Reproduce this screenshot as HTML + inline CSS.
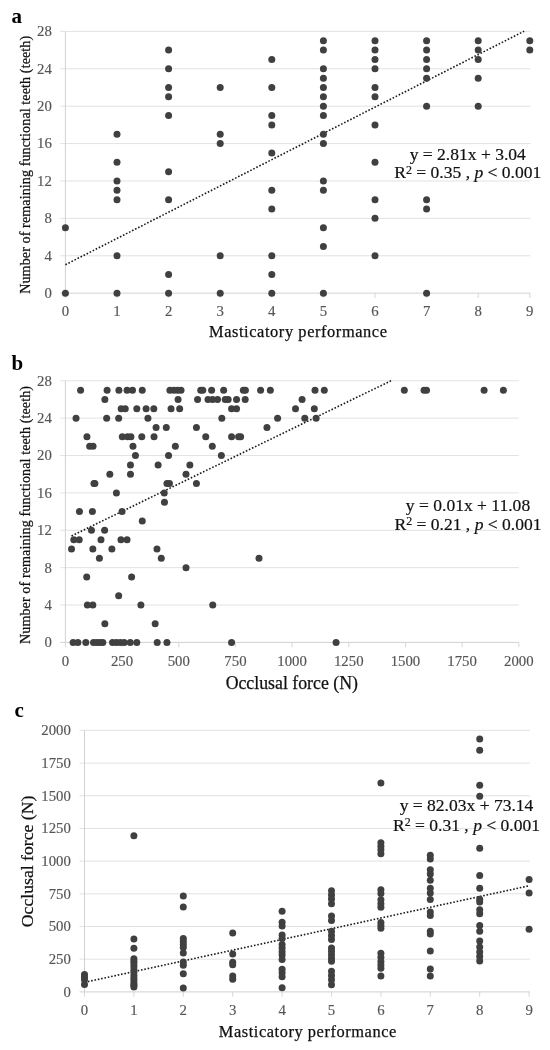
<!DOCTYPE html>
<html><head><meta charset="utf-8"><title>Figure</title>
<style>
html,body{margin:0;padding:0;background:#fff;}
body{width:550px;height:1050px;overflow:hidden;}
svg{display:block;font-family:"Liberation Serif",serif;}
</style></head><body>
<svg width="550" height="1050" viewBox="0 0 550 1050">
<rect width="550" height="1050" fill="#ffffff"/>
<line x1="60.4" y1="255.76" x2="530.4" y2="255.76" stroke="#dfdfdf" stroke-width="0.9"/>
<line x1="60.4" y1="218.37" x2="530.4" y2="218.37" stroke="#dfdfdf" stroke-width="0.9"/>
<line x1="60.4" y1="180.97" x2="530.4" y2="180.97" stroke="#dfdfdf" stroke-width="0.9"/>
<line x1="60.4" y1="143.58" x2="530.4" y2="143.58" stroke="#dfdfdf" stroke-width="0.9"/>
<line x1="60.4" y1="106.19" x2="530.4" y2="106.19" stroke="#dfdfdf" stroke-width="0.9"/>
<line x1="60.4" y1="68.8" x2="530.4" y2="68.8" stroke="#dfdfdf" stroke-width="0.9"/>
<line x1="60.4" y1="31.41" x2="530.4" y2="31.41" stroke="#dfdfdf" stroke-width="0.9"/>
<line x1="65.4" y1="31.41" x2="65.4" y2="293.15" stroke="#d2d2d2" stroke-width="1"/>
<line x1="60.4" y1="293.15" x2="530.4" y2="293.15" stroke="#d2d2d2" stroke-width="1"/>
<line x1="65.4" y1="293.15" x2="65.4" y2="297.95" stroke="#d2d2d2" stroke-width="0.9"/>
<line x1="117" y1="293.15" x2="117" y2="297.95" stroke="#d2d2d2" stroke-width="0.9"/>
<line x1="168.6" y1="293.15" x2="168.6" y2="297.95" stroke="#d2d2d2" stroke-width="0.9"/>
<line x1="220.2" y1="293.15" x2="220.2" y2="297.95" stroke="#d2d2d2" stroke-width="0.9"/>
<line x1="271.8" y1="293.15" x2="271.8" y2="297.95" stroke="#d2d2d2" stroke-width="0.9"/>
<line x1="323.4" y1="293.15" x2="323.4" y2="297.95" stroke="#d2d2d2" stroke-width="0.9"/>
<line x1="375" y1="293.15" x2="375" y2="297.95" stroke="#d2d2d2" stroke-width="0.9"/>
<line x1="426.6" y1="293.15" x2="426.6" y2="297.95" stroke="#d2d2d2" stroke-width="0.9"/>
<line x1="478.2" y1="293.15" x2="478.2" y2="297.95" stroke="#d2d2d2" stroke-width="0.9"/>
<line x1="529.8" y1="293.15" x2="529.8" y2="297.95" stroke="#d2d2d2" stroke-width="0.9"/>
<text x="51.8" y="298.05" text-anchor="end" font-size="14.8" fill="#555555" stroke="#555555" stroke-width="0.15">0</text>
<text x="51.8" y="260.66" text-anchor="end" font-size="14.8" fill="#555555" stroke="#555555" stroke-width="0.15">4</text>
<text x="51.8" y="223.27" text-anchor="end" font-size="14.8" fill="#555555" stroke="#555555" stroke-width="0.15">8</text>
<text x="51.8" y="185.87" text-anchor="end" font-size="14.8" fill="#555555" stroke="#555555" stroke-width="0.15">12</text>
<text x="51.8" y="148.48" text-anchor="end" font-size="14.8" fill="#555555" stroke="#555555" stroke-width="0.15">16</text>
<text x="51.8" y="111.09" text-anchor="end" font-size="14.8" fill="#555555" stroke="#555555" stroke-width="0.15">20</text>
<text x="51.8" y="73.7" text-anchor="end" font-size="14.8" fill="#555555" stroke="#555555" stroke-width="0.15">24</text>
<text x="51.8" y="36.31" text-anchor="end" font-size="14.8" fill="#555555" stroke="#555555" stroke-width="0.15">28</text>
<text x="65.4" y="316.2" text-anchor="middle" font-size="14.8" fill="#555555" stroke="#555555" stroke-width="0.15">0</text>
<text x="117" y="316.2" text-anchor="middle" font-size="14.8" fill="#555555" stroke="#555555" stroke-width="0.15">1</text>
<text x="168.6" y="316.2" text-anchor="middle" font-size="14.8" fill="#555555" stroke="#555555" stroke-width="0.15">2</text>
<text x="220.2" y="316.2" text-anchor="middle" font-size="14.8" fill="#555555" stroke="#555555" stroke-width="0.15">3</text>
<text x="271.8" y="316.2" text-anchor="middle" font-size="14.8" fill="#555555" stroke="#555555" stroke-width="0.15">4</text>
<text x="323.4" y="316.2" text-anchor="middle" font-size="14.8" fill="#555555" stroke="#555555" stroke-width="0.15">5</text>
<text x="375" y="316.2" text-anchor="middle" font-size="14.8" fill="#555555" stroke="#555555" stroke-width="0.15">6</text>
<text x="426.6" y="316.2" text-anchor="middle" font-size="14.8" fill="#555555" stroke="#555555" stroke-width="0.15">7</text>
<text x="478.2" y="316.2" text-anchor="middle" font-size="14.8" fill="#555555" stroke="#555555" stroke-width="0.15">8</text>
<text x="529.8" y="316.2" text-anchor="middle" font-size="14.8" fill="#555555" stroke="#555555" stroke-width="0.15">9</text>
<line x1="65.4" y1="264.73" x2="524.12" y2="31.21" stroke="#1a1a1a" stroke-width="1.6" stroke-dasharray="1.6 1.8"/>
<g fill="#404040"><circle cx="65.4" cy="293.15" r="3.5"/><circle cx="65.4" cy="227.71" r="3.5"/><circle cx="117" cy="293.15" r="3.5"/><circle cx="117" cy="255.76" r="3.5"/><circle cx="117" cy="199.67" r="3.5"/><circle cx="117" cy="190.32" r="3.5"/><circle cx="117" cy="180.97" r="3.5"/><circle cx="117" cy="162.28" r="3.5"/><circle cx="117" cy="134.23" r="3.5"/><circle cx="168.6" cy="293.15" r="3.5"/><circle cx="168.6" cy="274.45" r="3.5"/><circle cx="168.6" cy="199.67" r="3.5"/><circle cx="168.6" cy="171.63" r="3.5"/><circle cx="168.6" cy="115.54" r="3.5"/><circle cx="168.6" cy="96.84" r="3.5"/><circle cx="168.6" cy="87.49" r="3.5"/><circle cx="168.6" cy="68.8" r="3.5"/><circle cx="168.6" cy="50.1" r="3.5"/><circle cx="220.2" cy="293.15" r="3.5"/><circle cx="220.2" cy="255.76" r="3.5"/><circle cx="220.2" cy="143.58" r="3.5"/><circle cx="220.2" cy="134.23" r="3.5"/><circle cx="220.2" cy="87.49" r="3.5"/><circle cx="271.8" cy="293.15" r="3.5"/><circle cx="271.8" cy="274.45" r="3.5"/><circle cx="271.8" cy="255.76" r="3.5"/><circle cx="271.8" cy="209.02" r="3.5"/><circle cx="271.8" cy="190.32" r="3.5"/><circle cx="271.8" cy="152.93" r="3.5"/><circle cx="271.8" cy="124.89" r="3.5"/><circle cx="271.8" cy="115.54" r="3.5"/><circle cx="271.8" cy="87.49" r="3.5"/><circle cx="271.8" cy="59.45" r="3.5"/><circle cx="323.4" cy="293.15" r="3.5"/><circle cx="323.4" cy="246.41" r="3.5"/><circle cx="323.4" cy="227.71" r="3.5"/><circle cx="323.4" cy="190.32" r="3.5"/><circle cx="323.4" cy="180.97" r="3.5"/><circle cx="323.4" cy="143.58" r="3.5"/><circle cx="323.4" cy="134.23" r="3.5"/><circle cx="323.4" cy="115.54" r="3.5"/><circle cx="323.4" cy="106.19" r="3.5"/><circle cx="323.4" cy="96.84" r="3.5"/><circle cx="323.4" cy="87.49" r="3.5"/><circle cx="323.4" cy="78.15" r="3.5"/><circle cx="323.4" cy="68.8" r="3.5"/><circle cx="323.4" cy="50.1" r="3.5"/><circle cx="323.4" cy="40.75" r="3.5"/><circle cx="375" cy="255.76" r="3.5"/><circle cx="375" cy="218.37" r="3.5"/><circle cx="375" cy="199.67" r="3.5"/><circle cx="375" cy="162.28" r="3.5"/><circle cx="375" cy="124.89" r="3.5"/><circle cx="375" cy="96.84" r="3.5"/><circle cx="375" cy="87.49" r="3.5"/><circle cx="375" cy="68.8" r="3.5"/><circle cx="375" cy="59.45" r="3.5"/><circle cx="375" cy="50.1" r="3.5"/><circle cx="375" cy="40.75" r="3.5"/><circle cx="426.6" cy="293.15" r="3.5"/><circle cx="426.6" cy="209.02" r="3.5"/><circle cx="426.6" cy="199.67" r="3.5"/><circle cx="426.6" cy="106.19" r="3.5"/><circle cx="426.6" cy="78.15" r="3.5"/><circle cx="426.6" cy="68.8" r="3.5"/><circle cx="426.6" cy="59.45" r="3.5"/><circle cx="426.6" cy="50.1" r="3.5"/><circle cx="426.6" cy="40.75" r="3.5"/><circle cx="478.2" cy="106.19" r="3.5"/><circle cx="478.2" cy="78.15" r="3.5"/><circle cx="478.2" cy="59.45" r="3.5"/><circle cx="478.2" cy="50.1" r="3.5"/><circle cx="478.2" cy="40.75" r="3.5"/><circle cx="529.8" cy="50.1" r="3.5"/><circle cx="529.8" cy="40.75" r="3.5"/></g>
<text x="467.8" y="159.9" text-anchor="middle" font-size="17.55" fill="#111" stroke="#111" stroke-width="0.2">y = 2.81x + 3.04</text>
<text x="467.8" y="178.4" text-anchor="middle" font-size="17.55" fill="#111" stroke="#111" stroke-width="0.2">R<tspan font-size="11.9" dy="-4.9">2</tspan><tspan dy="4.9"> = 0.35 , </tspan><tspan font-style="italic">p</tspan> &lt; 0.001</text>
<text x="11.5" y="22.6" font-size="21" font-weight="bold" fill="#000">a</text>
<text transform="translate(30.2,164.8) rotate(-90)" text-anchor="middle" font-size="14.1" textLength="258" lengthAdjust="spacing" fill="#111" stroke="#111" stroke-width="0.25">Number of remaining functional teeth (teeth)</text>
<text x="298" y="337.2" text-anchor="middle" font-size="16.4" textLength="178" lengthAdjust="spacing" fill="#111" stroke="#111" stroke-width="0.25">Masticatory performance</text>
<line x1="60.4" y1="605.03" x2="518.8" y2="605.03" stroke="#dfdfdf" stroke-width="0.9"/>
<line x1="60.4" y1="567.66" x2="518.8" y2="567.66" stroke="#dfdfdf" stroke-width="0.9"/>
<line x1="60.4" y1="530.28" x2="518.8" y2="530.28" stroke="#dfdfdf" stroke-width="0.9"/>
<line x1="60.4" y1="492.91" x2="518.8" y2="492.91" stroke="#dfdfdf" stroke-width="0.9"/>
<line x1="60.4" y1="455.54" x2="518.8" y2="455.54" stroke="#dfdfdf" stroke-width="0.9"/>
<line x1="60.4" y1="418.17" x2="518.8" y2="418.17" stroke="#dfdfdf" stroke-width="0.9"/>
<line x1="60.4" y1="380.8" x2="518.8" y2="380.8" stroke="#dfdfdf" stroke-width="0.9"/>
<line x1="65.4" y1="380.8" x2="65.4" y2="642.4" stroke="#d2d2d2" stroke-width="1"/>
<line x1="60.4" y1="642.4" x2="518.8" y2="642.4" stroke="#d2d2d2" stroke-width="1"/>
<line x1="65.4" y1="642.4" x2="65.4" y2="647.2" stroke="#d2d2d2" stroke-width="0.9"/>
<line x1="122.08" y1="642.4" x2="122.08" y2="647.2" stroke="#d2d2d2" stroke-width="0.9"/>
<line x1="178.75" y1="642.4" x2="178.75" y2="647.2" stroke="#d2d2d2" stroke-width="0.9"/>
<line x1="235.43" y1="642.4" x2="235.43" y2="647.2" stroke="#d2d2d2" stroke-width="0.9"/>
<line x1="292.1" y1="642.4" x2="292.1" y2="647.2" stroke="#d2d2d2" stroke-width="0.9"/>
<line x1="348.77" y1="642.4" x2="348.77" y2="647.2" stroke="#d2d2d2" stroke-width="0.9"/>
<line x1="405.45" y1="642.4" x2="405.45" y2="647.2" stroke="#d2d2d2" stroke-width="0.9"/>
<line x1="462.12" y1="642.4" x2="462.12" y2="647.2" stroke="#d2d2d2" stroke-width="0.9"/>
<line x1="518.8" y1="642.4" x2="518.8" y2="647.2" stroke="#d2d2d2" stroke-width="0.9"/>
<text x="51.8" y="647.3" text-anchor="end" font-size="14.8" fill="#555555" stroke="#555555" stroke-width="0.15">0</text>
<text x="51.8" y="609.93" text-anchor="end" font-size="14.8" fill="#555555" stroke="#555555" stroke-width="0.15">4</text>
<text x="51.8" y="572.56" text-anchor="end" font-size="14.8" fill="#555555" stroke="#555555" stroke-width="0.15">8</text>
<text x="51.8" y="535.18" text-anchor="end" font-size="14.8" fill="#555555" stroke="#555555" stroke-width="0.15">12</text>
<text x="51.8" y="497.81" text-anchor="end" font-size="14.8" fill="#555555" stroke="#555555" stroke-width="0.15">16</text>
<text x="51.8" y="460.44" text-anchor="end" font-size="14.8" fill="#555555" stroke="#555555" stroke-width="0.15">20</text>
<text x="51.8" y="423.07" text-anchor="end" font-size="14.8" fill="#555555" stroke="#555555" stroke-width="0.15">24</text>
<text x="51.8" y="385.7" text-anchor="end" font-size="14.8" fill="#555555" stroke="#555555" stroke-width="0.15">28</text>
<text x="65.4" y="665.6" text-anchor="middle" font-size="14.8" fill="#555555" stroke="#555555" stroke-width="0.15">0</text>
<text x="122.08" y="665.6" text-anchor="middle" font-size="14.8" fill="#555555" stroke="#555555" stroke-width="0.15">250</text>
<text x="178.75" y="665.6" text-anchor="middle" font-size="14.8" fill="#555555" stroke="#555555" stroke-width="0.15">500</text>
<text x="235.43" y="665.6" text-anchor="middle" font-size="14.8" fill="#555555" stroke="#555555" stroke-width="0.15">750</text>
<text x="292.1" y="665.6" text-anchor="middle" font-size="14.8" fill="#555555" stroke="#555555" stroke-width="0.15">1000</text>
<text x="348.77" y="665.6" text-anchor="middle" font-size="14.8" fill="#555555" stroke="#555555" stroke-width="0.15">1250</text>
<text x="405.45" y="665.6" text-anchor="middle" font-size="14.8" fill="#555555" stroke="#555555" stroke-width="0.15">1500</text>
<text x="462.12" y="665.6" text-anchor="middle" font-size="14.8" fill="#555555" stroke="#555555" stroke-width="0.15">1750</text>
<text x="518.8" y="665.6" text-anchor="middle" font-size="14.8" fill="#555555" stroke="#555555" stroke-width="0.15">2000</text>
<line x1="71.52" y1="535.91" x2="390.94" y2="380.8" stroke="#1a1a1a" stroke-width="1.6" stroke-dasharray="1.6 1.8"/>
<g fill="#404040"><circle cx="80.59" cy="390.14" r="3.5"/><circle cx="107.11" cy="390.14" r="3.5"/><circle cx="118.9" cy="390.14" r="3.5"/><circle cx="127.06" cy="390.14" r="3.5"/><circle cx="132.5" cy="390.14" r="3.5"/><circle cx="142.25" cy="390.14" r="3.5"/><circle cx="169.91" cy="390.14" r="3.5"/><circle cx="173.99" cy="390.14" r="3.5"/><circle cx="177.62" cy="390.14" r="3.5"/><circle cx="181.02" cy="390.14" r="3.5"/><circle cx="200.74" cy="390.14" r="3.5"/><circle cx="202.78" cy="390.14" r="3.5"/><circle cx="211.62" cy="390.14" r="3.5"/><circle cx="223.64" cy="390.14" r="3.5"/><circle cx="243.36" cy="390.14" r="3.5"/><circle cx="245.4" cy="390.14" r="3.5"/><circle cx="260.59" cy="390.14" r="3.5"/><circle cx="270.34" cy="390.14" r="3.5"/><circle cx="315" cy="390.14" r="3.5"/><circle cx="324.29" cy="390.14" r="3.5"/><circle cx="404.32" cy="390.14" r="3.5"/><circle cx="424.04" cy="390.14" r="3.5"/><circle cx="426.53" cy="390.14" r="3.5"/><circle cx="484.11" cy="390.14" r="3.5"/><circle cx="503.38" cy="390.14" r="3.5"/><circle cx="104.85" cy="399.48" r="3.5"/><circle cx="178.07" cy="399.48" r="3.5"/><circle cx="197.57" cy="399.48" r="3.5"/><circle cx="207.99" cy="399.48" r="3.5"/><circle cx="212.53" cy="399.48" r="3.5"/><circle cx="217.52" cy="399.48" r="3.5"/><circle cx="225.22" cy="399.48" r="3.5"/><circle cx="228.17" cy="399.48" r="3.5"/><circle cx="236.56" cy="399.48" r="3.5"/><circle cx="245.17" cy="399.48" r="3.5"/><circle cx="302.07" cy="399.48" r="3.5"/><circle cx="121.17" cy="408.82" r="3.5"/><circle cx="125.25" cy="408.82" r="3.5"/><circle cx="136.81" cy="408.82" r="3.5"/><circle cx="146.11" cy="408.82" r="3.5"/><circle cx="153.81" cy="408.82" r="3.5"/><circle cx="171.04" cy="408.82" r="3.5"/><circle cx="179.66" cy="408.82" r="3.5"/><circle cx="231.57" cy="408.82" r="3.5"/><circle cx="236.56" cy="408.82" r="3.5"/><circle cx="295.5" cy="408.82" r="3.5"/><circle cx="314.32" cy="408.82" r="3.5"/><circle cx="76.05" cy="418.17" r="3.5"/><circle cx="106.66" cy="418.17" r="3.5"/><circle cx="118.67" cy="418.17" r="3.5"/><circle cx="147.92" cy="418.17" r="3.5"/><circle cx="221.82" cy="418.17" r="3.5"/><circle cx="277.59" cy="418.17" r="3.5"/><circle cx="304.8" cy="418.17" r="3.5"/><circle cx="316.13" cy="418.17" r="3.5"/><circle cx="156.08" cy="427.51" r="3.5"/><circle cx="166.28" cy="427.51" r="3.5"/><circle cx="196.43" cy="427.51" r="3.5"/><circle cx="266.94" cy="427.51" r="3.5"/><circle cx="86.94" cy="436.85" r="3.5"/><circle cx="122.3" cy="436.85" r="3.5"/><circle cx="127.52" cy="436.85" r="3.5"/><circle cx="130.92" cy="436.85" r="3.5"/><circle cx="141.8" cy="436.85" r="3.5"/><circle cx="154.04" cy="436.85" r="3.5"/><circle cx="205.73" cy="436.85" r="3.5"/><circle cx="231.57" cy="436.85" r="3.5"/><circle cx="238.6" cy="436.85" r="3.5"/><circle cx="240.64" cy="436.85" r="3.5"/><circle cx="89.66" cy="446.2" r="3.5"/><circle cx="93.06" cy="446.2" r="3.5"/><circle cx="132.96" cy="446.2" r="3.5"/><circle cx="175.35" cy="446.2" r="3.5"/><circle cx="212.3" cy="446.2" r="3.5"/><circle cx="135.45" cy="455.54" r="3.5"/><circle cx="168.55" cy="455.54" r="3.5"/><circle cx="221.37" cy="455.54" r="3.5"/><circle cx="130.46" cy="464.88" r="3.5"/><circle cx="158.12" cy="464.88" r="3.5"/><circle cx="189.86" cy="464.88" r="3.5"/><circle cx="109.83" cy="474.23" r="3.5"/><circle cx="130.46" cy="474.23" r="3.5"/><circle cx="186" cy="474.23" r="3.5"/><circle cx="93.96" cy="483.57" r="3.5"/><circle cx="94.87" cy="483.57" r="3.5"/><circle cx="166.96" cy="483.57" r="3.5"/><circle cx="169.46" cy="483.57" r="3.5"/><circle cx="196.43" cy="483.57" r="3.5"/><circle cx="116.41" cy="492.91" r="3.5"/><circle cx="164.24" cy="492.91" r="3.5"/><circle cx="164.47" cy="502.25" r="3.5"/><circle cx="79.46" cy="511.6" r="3.5"/><circle cx="92.38" cy="511.6" r="3.5"/><circle cx="122.08" cy="511.6" r="3.5"/><circle cx="142.25" cy="520.94" r="3.5"/><circle cx="91.47" cy="530.28" r="3.5"/><circle cx="104.62" cy="530.28" r="3.5"/><circle cx="73.79" cy="539.63" r="3.5"/><circle cx="79.23" cy="539.63" r="3.5"/><circle cx="100.99" cy="539.63" r="3.5"/><circle cx="120.94" cy="539.63" r="3.5"/><circle cx="127.06" cy="539.63" r="3.5"/><circle cx="71.52" cy="548.97" r="3.5"/><circle cx="92.83" cy="548.97" r="3.5"/><circle cx="111.87" cy="548.97" r="3.5"/><circle cx="156.99" cy="548.97" r="3.5"/><circle cx="99.41" cy="558.31" r="3.5"/><circle cx="161.29" cy="558.31" r="3.5"/><circle cx="259" cy="558.31" r="3.5"/><circle cx="186" cy="567.66" r="3.5"/><circle cx="86.71" cy="577" r="3.5"/><circle cx="131.6" cy="577" r="3.5"/><circle cx="118.67" cy="595.68" r="3.5"/><circle cx="87.39" cy="605.03" r="3.5"/><circle cx="92.83" cy="605.03" r="3.5"/><circle cx="140.89" cy="605.03" r="3.5"/><circle cx="212.76" cy="605.03" r="3.5"/><circle cx="104.85" cy="623.71" r="3.5"/><circle cx="155.17" cy="623.71" r="3.5"/><circle cx="73.11" cy="642.4" r="3.5"/><circle cx="77.87" cy="642.4" r="3.5"/><circle cx="85.8" cy="642.4" r="3.5"/><circle cx="93.51" cy="642.4" r="3.5"/><circle cx="96.68" cy="642.4" r="3.5"/><circle cx="99.86" cy="642.4" r="3.5"/><circle cx="102.81" cy="642.4" r="3.5"/><circle cx="112.55" cy="642.4" r="3.5"/><circle cx="116.41" cy="642.4" r="3.5"/><circle cx="120.26" cy="642.4" r="3.5"/><circle cx="124.12" cy="642.4" r="3.5"/><circle cx="130.24" cy="642.4" r="3.5"/><circle cx="136.81" cy="642.4" r="3.5"/><circle cx="157.21" cy="642.4" r="3.5"/><circle cx="166.96" cy="642.4" r="3.5"/><circle cx="231.57" cy="642.4" r="3.5"/><circle cx="336.08" cy="642.4" r="3.5"/></g>
<text x="468" y="510.8" text-anchor="middle" font-size="17.55" fill="#111" stroke="#111" stroke-width="0.2">y = 0.01x + 11.08</text>
<text x="468" y="529.6" text-anchor="middle" font-size="17.55" fill="#111" stroke="#111" stroke-width="0.2">R<tspan font-size="11.9" dy="-4.9">2</tspan><tspan dy="4.9"> = 0.21 , </tspan><tspan font-style="italic">p</tspan> &lt; 0.001</text>
<text x="11.5" y="370" font-size="21" font-weight="bold" fill="#000">b</text>
<text transform="translate(30.2,515) rotate(-90)" text-anchor="middle" font-size="14.1" textLength="258" lengthAdjust="spacing" fill="#111" stroke="#111" stroke-width="0.25">Number of remaining functional teeth (teeth)</text>
<text x="291.8" y="688.5" text-anchor="middle" font-size="17.8" fill="#111" stroke="#111" stroke-width="0.25">Occlusal force (N)</text>
<line x1="79.5" y1="959.21" x2="529.9" y2="959.21" stroke="#dfdfdf" stroke-width="0.9"/>
<line x1="79.5" y1="926.52" x2="529.9" y2="926.52" stroke="#dfdfdf" stroke-width="0.9"/>
<line x1="79.5" y1="893.84" x2="529.9" y2="893.84" stroke="#dfdfdf" stroke-width="0.9"/>
<line x1="79.5" y1="861.15" x2="529.9" y2="861.15" stroke="#dfdfdf" stroke-width="0.9"/>
<line x1="79.5" y1="828.46" x2="529.9" y2="828.46" stroke="#dfdfdf" stroke-width="0.9"/>
<line x1="79.5" y1="795.77" x2="529.9" y2="795.77" stroke="#dfdfdf" stroke-width="0.9"/>
<line x1="79.5" y1="763.09" x2="529.9" y2="763.09" stroke="#dfdfdf" stroke-width="0.9"/>
<line x1="79.5" y1="730.4" x2="529.9" y2="730.4" stroke="#dfdfdf" stroke-width="0.9"/>
<line x1="84.5" y1="730.4" x2="84.5" y2="991.9" stroke="#d2d2d2" stroke-width="1"/>
<line x1="79.5" y1="991.9" x2="529.9" y2="991.9" stroke="#d2d2d2" stroke-width="1"/>
<line x1="84.5" y1="991.9" x2="84.5" y2="996.7" stroke="#d2d2d2" stroke-width="0.9"/>
<line x1="133.9" y1="991.9" x2="133.9" y2="996.7" stroke="#d2d2d2" stroke-width="0.9"/>
<line x1="183.3" y1="991.9" x2="183.3" y2="996.7" stroke="#d2d2d2" stroke-width="0.9"/>
<line x1="232.7" y1="991.9" x2="232.7" y2="996.7" stroke="#d2d2d2" stroke-width="0.9"/>
<line x1="282.1" y1="991.9" x2="282.1" y2="996.7" stroke="#d2d2d2" stroke-width="0.9"/>
<line x1="331.5" y1="991.9" x2="331.5" y2="996.7" stroke="#d2d2d2" stroke-width="0.9"/>
<line x1="380.9" y1="991.9" x2="380.9" y2="996.7" stroke="#d2d2d2" stroke-width="0.9"/>
<line x1="430.3" y1="991.9" x2="430.3" y2="996.7" stroke="#d2d2d2" stroke-width="0.9"/>
<line x1="479.7" y1="991.9" x2="479.7" y2="996.7" stroke="#d2d2d2" stroke-width="0.9"/>
<line x1="529.1" y1="991.9" x2="529.1" y2="996.7" stroke="#d2d2d2" stroke-width="0.9"/>
<text x="70.9" y="996.8" text-anchor="end" font-size="14.8" fill="#555555" stroke="#555555" stroke-width="0.15">0</text>
<text x="70.9" y="964.11" text-anchor="end" font-size="14.8" fill="#555555" stroke="#555555" stroke-width="0.15">250</text>
<text x="70.9" y="931.42" text-anchor="end" font-size="14.8" fill="#555555" stroke="#555555" stroke-width="0.15">500</text>
<text x="70.9" y="898.74" text-anchor="end" font-size="14.8" fill="#555555" stroke="#555555" stroke-width="0.15">750</text>
<text x="70.9" y="866.05" text-anchor="end" font-size="14.8" fill="#555555" stroke="#555555" stroke-width="0.15">1000</text>
<text x="70.9" y="833.36" text-anchor="end" font-size="14.8" fill="#555555" stroke="#555555" stroke-width="0.15">1250</text>
<text x="70.9" y="800.67" text-anchor="end" font-size="14.8" fill="#555555" stroke="#555555" stroke-width="0.15">1500</text>
<text x="70.9" y="767.99" text-anchor="end" font-size="14.8" fill="#555555" stroke="#555555" stroke-width="0.15">1750</text>
<text x="70.9" y="735.3" text-anchor="end" font-size="14.8" fill="#555555" stroke="#555555" stroke-width="0.15">2000</text>
<text x="84.5" y="1014.7" text-anchor="middle" font-size="14.8" fill="#555555" stroke="#555555" stroke-width="0.15">0</text>
<text x="133.9" y="1014.7" text-anchor="middle" font-size="14.8" fill="#555555" stroke="#555555" stroke-width="0.15">1</text>
<text x="183.3" y="1014.7" text-anchor="middle" font-size="14.8" fill="#555555" stroke="#555555" stroke-width="0.15">2</text>
<text x="232.7" y="1014.7" text-anchor="middle" font-size="14.8" fill="#555555" stroke="#555555" stroke-width="0.15">3</text>
<text x="282.1" y="1014.7" text-anchor="middle" font-size="14.8" fill="#555555" stroke="#555555" stroke-width="0.15">4</text>
<text x="331.5" y="1014.7" text-anchor="middle" font-size="14.8" fill="#555555" stroke="#555555" stroke-width="0.15">5</text>
<text x="380.9" y="1014.7" text-anchor="middle" font-size="14.8" fill="#555555" stroke="#555555" stroke-width="0.15">6</text>
<text x="430.3" y="1014.7" text-anchor="middle" font-size="14.8" fill="#555555" stroke="#555555" stroke-width="0.15">7</text>
<text x="479.7" y="1014.7" text-anchor="middle" font-size="14.8" fill="#555555" stroke="#555555" stroke-width="0.15">8</text>
<text x="529.1" y="1014.7" text-anchor="middle" font-size="14.8" fill="#555555" stroke="#555555" stroke-width="0.15">9</text>
<line x1="84.5" y1="982.34" x2="529.1" y2="885.81" stroke="#1a1a1a" stroke-width="1.6" stroke-dasharray="1.6 1.8"/>
<g fill="#404040"><circle cx="84.5" cy="974.51" r="3.5"/><circle cx="84.5" cy="977.13" r="3.5"/><circle cx="84.5" cy="979.87" r="3.5"/><circle cx="84.5" cy="984.58" r="3.5"/><circle cx="133.9" cy="835.65" r="3.5"/><circle cx="133.9" cy="938.95" r="3.5"/><circle cx="133.9" cy="948.36" r="3.5"/><circle cx="133.9" cy="958.82" r="3.5"/><circle cx="133.9" cy="961.17" r="3.5"/><circle cx="133.9" cy="963.79" r="3.5"/><circle cx="133.9" cy="966.4" r="3.5"/><circle cx="133.9" cy="969.67" r="3.5"/><circle cx="133.9" cy="972.29" r="3.5"/><circle cx="133.9" cy="975.56" r="3.5"/><circle cx="133.9" cy="978.17" r="3.5"/><circle cx="133.9" cy="980.79" r="3.5"/><circle cx="133.9" cy="983.4" r="3.5"/><circle cx="133.9" cy="985.36" r="3.5"/><circle cx="133.9" cy="986.93" r="3.5"/><circle cx="183.3" cy="895.93" r="3.5"/><circle cx="183.3" cy="906.91" r="3.5"/><circle cx="183.3" cy="938.42" r="3.5"/><circle cx="183.3" cy="941.56" r="3.5"/><circle cx="183.3" cy="944.57" r="3.5"/><circle cx="183.3" cy="947.44" r="3.5"/><circle cx="183.3" cy="952.94" r="3.5"/><circle cx="183.3" cy="962.09" r="3.5"/><circle cx="183.3" cy="965.23" r="3.5"/><circle cx="183.3" cy="973.73" r="3.5"/><circle cx="183.3" cy="988.11" r="3.5"/><circle cx="232.7" cy="932.93" r="3.5"/><circle cx="232.7" cy="954.11" r="3.5"/><circle cx="232.7" cy="962.35" r="3.5"/><circle cx="232.7" cy="964.83" r="3.5"/><circle cx="232.7" cy="975.95" r="3.5"/><circle cx="232.7" cy="979.35" r="3.5"/><circle cx="282.1" cy="911.23" r="3.5"/><circle cx="282.1" cy="922.34" r="3.5"/><circle cx="282.1" cy="926" r="3.5"/><circle cx="282.1" cy="934.89" r="3.5"/><circle cx="282.1" cy="938.42" r="3.5"/><circle cx="282.1" cy="944.57" r="3.5"/><circle cx="282.1" cy="948.1" r="3.5"/><circle cx="282.1" cy="951.63" r="3.5"/><circle cx="282.1" cy="955.03" r="3.5"/><circle cx="282.1" cy="959.47" r="3.5"/><circle cx="282.1" cy="969.15" r="3.5"/><circle cx="282.1" cy="972.81" r="3.5"/><circle cx="282.1" cy="976.86" r="3.5"/><circle cx="282.1" cy="987.72" r="3.5"/><circle cx="331.5" cy="890.7" r="3.5"/><circle cx="331.5" cy="894.88" r="3.5"/><circle cx="331.5" cy="899.07" r="3.5"/><circle cx="331.5" cy="903.77" r="3.5"/><circle cx="331.5" cy="916.06" r="3.5"/><circle cx="331.5" cy="920.38" r="3.5"/><circle cx="331.5" cy="931.23" r="3.5"/><circle cx="331.5" cy="935.55" r="3.5"/><circle cx="331.5" cy="939.47" r="3.5"/><circle cx="331.5" cy="947.97" r="3.5"/><circle cx="331.5" cy="951.37" r="3.5"/><circle cx="331.5" cy="954.64" r="3.5"/><circle cx="331.5" cy="958.17" r="3.5"/><circle cx="331.5" cy="961.3" r="3.5"/><circle cx="331.5" cy="971.24" r="3.5"/><circle cx="331.5" cy="975.56" r="3.5"/><circle cx="331.5" cy="979.87" r="3.5"/><circle cx="331.5" cy="984.71" r="3.5"/><circle cx="380.9" cy="783.09" r="3.5"/><circle cx="380.9" cy="842.71" r="3.5"/><circle cx="380.9" cy="846.24" r="3.5"/><circle cx="380.9" cy="849.77" r="3.5"/><circle cx="380.9" cy="853.7" r="3.5"/><circle cx="380.9" cy="889.78" r="3.5"/><circle cx="380.9" cy="893.58" r="3.5"/><circle cx="380.9" cy="899.85" r="3.5"/><circle cx="380.9" cy="903.77" r="3.5"/><circle cx="380.9" cy="907.3" r="3.5"/><circle cx="380.9" cy="922.6" r="3.5"/><circle cx="380.9" cy="925.48" r="3.5"/><circle cx="380.9" cy="928.36" r="3.5"/><circle cx="380.9" cy="953.33" r="3.5"/><circle cx="380.9" cy="957.25" r="3.5"/><circle cx="380.9" cy="961.57" r="3.5"/><circle cx="380.9" cy="965.1" r="3.5"/><circle cx="380.9" cy="968.37" r="3.5"/><circle cx="380.9" cy="975.95" r="3.5"/><circle cx="430.3" cy="855.27" r="3.5"/><circle cx="430.3" cy="859.06" r="3.5"/><circle cx="430.3" cy="869.78" r="3.5"/><circle cx="430.3" cy="874.09" r="3.5"/><circle cx="430.3" cy="880.24" r="3.5"/><circle cx="430.3" cy="888.35" r="3.5"/><circle cx="430.3" cy="892.92" r="3.5"/><circle cx="430.3" cy="899.46" r="3.5"/><circle cx="430.3" cy="911.88" r="3.5"/><circle cx="430.3" cy="915.54" r="3.5"/><circle cx="430.3" cy="931.23" r="3.5"/><circle cx="430.3" cy="934.11" r="3.5"/><circle cx="430.3" cy="950.98" r="3.5"/><circle cx="430.3" cy="969.02" r="3.5"/><circle cx="430.3" cy="975.95" r="3.5"/><circle cx="479.7" cy="738.9" r="3.5"/><circle cx="479.7" cy="750.27" r="3.5"/><circle cx="479.7" cy="785.31" r="3.5"/><circle cx="479.7" cy="796.17" r="3.5"/><circle cx="479.7" cy="848.34" r="3.5"/><circle cx="479.7" cy="875.53" r="3.5"/><circle cx="479.7" cy="888.35" r="3.5"/><circle cx="479.7" cy="899.33" r="3.5"/><circle cx="479.7" cy="901.94" r="3.5"/><circle cx="479.7" cy="909.79" r="3.5"/><circle cx="479.7" cy="913.84" r="3.5"/><circle cx="479.7" cy="925.48" r="3.5"/><circle cx="479.7" cy="931.23" r="3.5"/><circle cx="479.7" cy="940.91" r="3.5"/><circle cx="479.7" cy="946.92" r="3.5"/><circle cx="479.7" cy="952.02" r="3.5"/><circle cx="479.7" cy="956.6" r="3.5"/><circle cx="479.7" cy="960.91" r="3.5"/><circle cx="529.1" cy="879.59" r="3.5"/><circle cx="529.1" cy="892.92" r="3.5"/><circle cx="529.1" cy="929.27" r="3.5"/></g>
<text x="466.5" y="811" text-anchor="middle" font-size="17.55" fill="#111" stroke="#111" stroke-width="0.2">y = 82.03x + 73.14</text>
<text x="466.5" y="830.7" text-anchor="middle" font-size="17.55" fill="#111" stroke="#111" stroke-width="0.2">R<tspan font-size="11.9" dy="-4.9">2</tspan><tspan dy="4.9"> = 0.31 , </tspan><tspan font-style="italic">p</tspan> &lt; 0.001</text>
<text x="14.6" y="717.2" font-size="21" font-weight="bold" fill="#000">c</text>
<text transform="translate(33.2,861.4) rotate(-90)" text-anchor="middle" font-size="17.7" fill="#111" stroke="#111" stroke-width="0.25">Occlusal force (N)</text>
<text x="307.5" y="1037" text-anchor="middle" font-size="16.4" textLength="177.5" lengthAdjust="spacing" fill="#111" stroke="#111" stroke-width="0.25">Masticatory performance</text>
</svg>
</body></html>
